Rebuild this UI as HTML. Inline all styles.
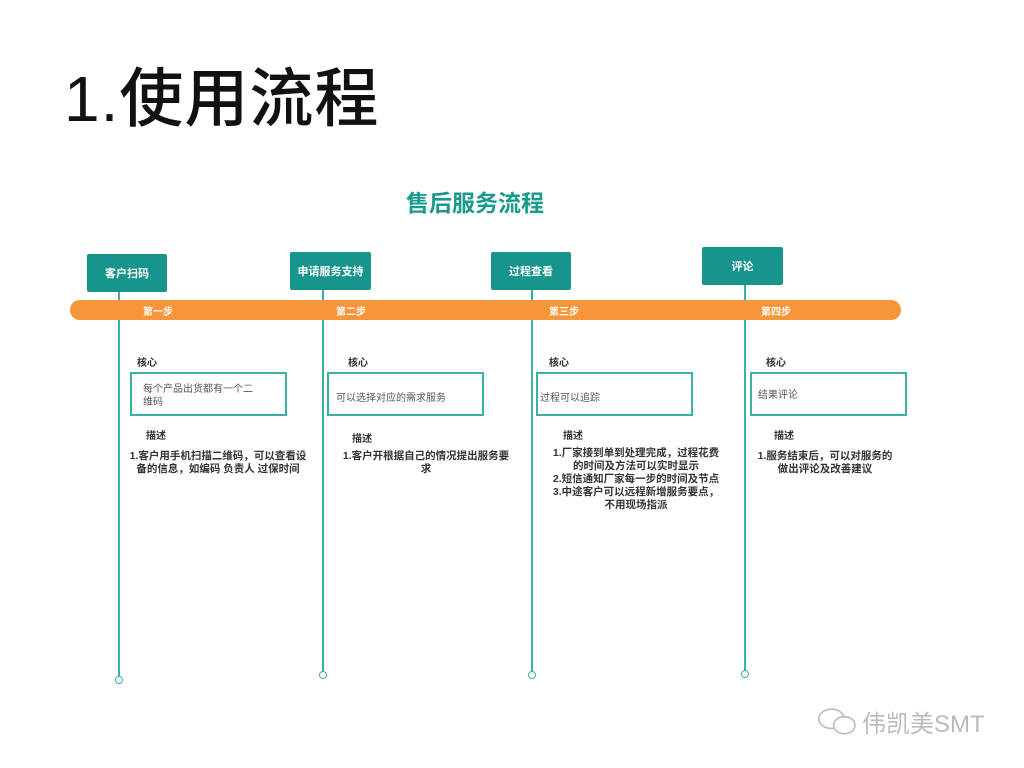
<!DOCTYPE html>
<html><head><meta charset="utf-8"><style>
body{margin:0;width:1024px;height:768px;background:#fff;position:relative;overflow:hidden;font-family:"Liberation Sans","Noto Sans CJK SC",sans-serif}
.a{position:absolute}
.hd{position:absolute;background:#17958c;color:#fff;font-size:11px;font-weight:bold;display:flex;align-items:center;justify-content:center;border-radius:2px}
.vl{position:absolute;width:2px;background:#3bb0a6}
.dot{position:absolute;width:6px;height:6px;border:1.5px solid #3bb0a6;border-radius:50%;background:#fff}
.st{position:absolute;top:303px;color:#fff;font-size:10px;font-weight:bold}
.k{position:absolute;font-size:10px;font-weight:bold;color:#333}
.cb{position:absolute;border:2px solid #3bb0a6;height:44px;width:153px;font-size:10px;color:#555;box-sizing:border-box}
.ds{position:absolute;font-size:10.5px;font-weight:bold;color:#333;text-align:center;line-height:13px}
</style></head><body>
<div class="a" style="left:64px;top:48px;font-size:64px;color:#111;font-weight:500;letter-spacing:1px">1.使用流程</div>
<div class="a" style="left:406px;top:184px;font-size:23px;font-weight:bold;color:#1a9a8c">售后服务流程</div>

<div class="vl" style="left:118px;top:292px;height:384px"></div>
<div class="vl" style="left:322px;top:290px;height:382px"></div>
<div class="vl" style="left:531px;top:290px;height:382px"></div>
<div class="vl" style="left:744px;top:285px;height:386px"></div>
<div class="dot" style="left:115px;top:676px"></div>
<div class="dot" style="left:319px;top:671px"></div>
<div class="dot" style="left:528px;top:671px"></div>
<div class="dot" style="left:741px;top:670px"></div>

<div class="a" style="left:70px;top:300px;width:831px;height:20px;background:#f7953a;border-radius:10px"></div>
<div class="st" style="left:143px">第一步</div>
<div class="st" style="left:336px">第二步</div>
<div class="st" style="left:549px">第三步</div>
<div class="st" style="left:761px">第四步</div>

<div class="hd" style="left:87px;top:254px;width:80px;height:38px">客户扫码</div>
<div class="hd" style="left:290px;top:252px;width:81px;height:38px">申请服务支持</div>
<div class="hd" style="left:491px;top:252px;width:80px;height:38px">过程查看</div>
<div class="hd" style="left:702px;top:247px;width:81px;height:38px">评论</div>

<div class="k" style="left:137px;top:354px">核心</div>
<div class="k" style="left:348px;top:354px">核心</div>
<div class="k" style="left:549px;top:354px">核心</div>
<div class="k" style="left:766px;top:354px">核心</div>

<div class="cb" style="left:130px;top:372px;width:157px;padding:9px 0 0 11px;line-height:13px">每个产品出货都有一个二<br>维码</div>
<div class="cb" style="left:327px;top:372px;width:157px;padding:15px 0 0 7px">可以选择对应的需求服务</div>
<div class="cb" style="left:536px;top:372px;width:157px;padding:15px 0 0 2px">过程可以追踪</div>
<div class="cb" style="left:750px;top:372px;width:157px;padding:12px 0 0 6px">结果评论</div>

<div class="k" style="left:146px;top:427px">描述</div>
<div class="k" style="left:352px;top:430px">描述</div>
<div class="k" style="left:563px;top:427px">描述</div>
<div class="k" style="left:774px;top:427px">描述</div>

<div class="ds" style="left:116px;top:450px;width:204px">1.客户用手机扫描二维码，可以查看设<br>备的信息，如编码 负责人 过保时间</div>
<div class="ds" style="left:324px;top:450px;width:204px">1.客户开根据自己的情况提出服务要<br>求</div>
<div class="ds" style="left:534px;top:447px;width:204px">1.厂家接到单到处理完成，过程花费<br>的时间及方法可以实时显示<br>2.短信通知厂家每一步的时间及节点<br>3.中途客户可以远程新增服务要点，<br>不用现场指派</div>
<div class="ds" style="left:742px;top:450px;width:166px">1.服务结束后，可以对服务的<br>做出评论及改善建议</div>

<div class="a" style="left:816px;top:704px;font-size:24px;color:#bbb">
<svg width="46" height="32" viewBox="0 0 42 30" style="vertical-align:middle"><ellipse cx="14" cy="12" rx="12" ry="9" fill="none" stroke="#bbb" stroke-width="1.5"/><ellipse cx="26" cy="18" rx="10" ry="8" fill="#fff" stroke="#bbb" stroke-width="1.5"/></svg><span style="vertical-align:middle">伟凯美SMT</span></div>
</body></html>
